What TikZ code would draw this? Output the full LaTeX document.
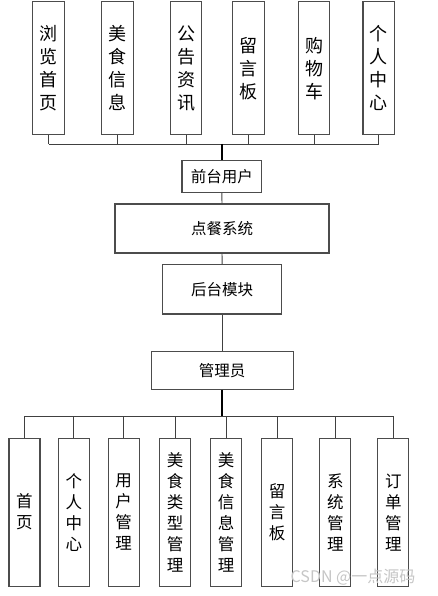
\documentclass[tikz,border=0pt]{standalone}
\usepackage{fontspec}
\setmainfont{Noto Sans CJK SC}
\usetikzlibrary{positioning,calc}

\tikzset{
  box/.style={draw=black!70,line width=1.1pt,fill=white,inner sep=0pt},
  topbox/.style={box,minimum width=31.5pt,minimum height=133pt,align=center,
    font=\fontsize{18}{23}\selectfont},
  midbox/.style={box,font=\fontsize{15.5}{18}\selectfont},
  subbox/.style={box,minimum width=31pt,minimum height=148pt,align=center,
    font=\fontsize{16.5}{21}\selectfont},
  link/.style={draw=black!75,line width=0.9pt},
  trunk/.style={draw=black,line width=1.6pt}
}

\begin{document}
\begin{tikzpicture}[x=1pt,y=-1pt]
  \useasboundingbox (0,0) rectangle (437,596);

  % ====== Front-end modules ======
  \foreach \i/\x/\txt in {1/48.5/{浏\\览\\首\\页},2/117.5/{美\\食\\信\\息},
      3/186/{公\\告\\资\\讯},4/248.5/{留\\言\\板},5/314/{购\\物\\车},
      6/378.7/{个\\人\\中\\心}}{
    \node[topbox] (t\i) at (\x,68.3) {\txt};
  }

  % ====== Main chain ======
  \node[midbox,minimum width=79.7pt,minimum height=31.7pt] (front) at (221.8,176.8) {前台用户};
  \node[midbox,minimum width=214pt,minimum height=49pt] (sys) at (222,228.5) {点餐系统};
  \node[midbox,minimum width=119pt,minimum height=49.3pt] (back) at (222.2,289.3) {后台模块};
  \node[midbox,minimum width=142.3pt,minimum height=37.6pt] (admin) at (222.2,370.5) {管理员};

  % ====== Admin modules ======
  \foreach \i/\x/\txt in {1/24.5/{首\\页},2/73.8/{个\\人\\中\\心},3/123.7/{用\\户\\管\\理},
      4/175/{美\\食\\类\\型\\管\\理},5/226/{美\\食\\信\\息\\管\\理},6/277/{留\\言\\板},
      7/335.3/{系\\统\\管\\理},8/393.3/{订\\单\\管\\理}}{
    \node[subbox] (b\i) at (\x,512.2) {\txt};
  }

  % ====== Connectors ======
  \coordinate (tbus) at (221.8,144);
  \foreach \i in {1,...,6}{
    \draw[link] (t\i.south) -- (t\i.south |- tbus);
  }
  \draw[link] (t1.south |- tbus) -- (t6.south |- tbus);
  \draw[trunk] (tbus) -- (front.north);

  \draw[link] (front.south) -- (sys.north);
  \draw[link] (sys.south) -- (back.north);
  \draw[link] (back.south) -- (admin.north);

  \coordinate (bbus) at (222.2,416);
  \draw[trunk] (admin.south) -- (bbus);
  \draw[link] (bbus -| b1.north) -- (bbus -| b8.north);
  \foreach \i in {1,...,8}{
    \draw[link] (bbus -| b\i.north) -- (b\i.north);
  }

  % watermark
  \node[font=\fontsize{16}{16}\selectfont,text=gray!45] (mark) at (353,577) {CSDN @一点源码};
\end{tikzpicture}
\end{document}
